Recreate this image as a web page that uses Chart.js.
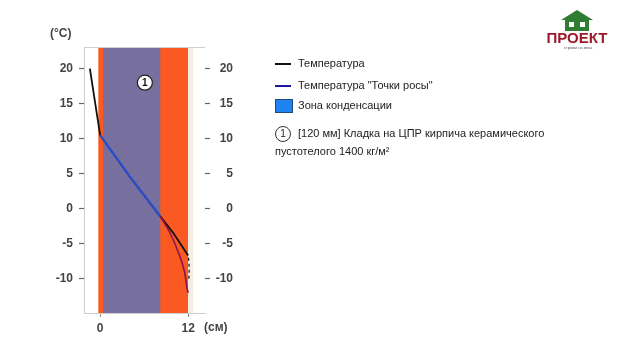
<!DOCTYPE html>
<html>
<head>
<meta charset="utf-8">
<script src="https://cdn.jsdelivr.net/npm/chart.js@4/dist/chart.umd.min.js"></script>
<style>
  body { margin: 0; background: #fff; font-family: "Liberation Sans", Arial, sans-serif; }
  #wrap { position: relative; width: 640px; height: 360px; }
  canvas { position: absolute; left: 0; top: 0; }
  .lg { position: absolute; font-size: 11px; color: #222; white-space: nowrap; }
  .unit { position: absolute; font-size: 12px; color: #444; font-weight: bold; }
</style>
</head>
<body>
<div id="wrap">
  <canvas id="myChart" width="640" height="360"></canvas>
  <div class="unit" style="left:50px;top:26px;">(°C)</div>
  <div class="unit" style="left:204px;top:320px;">(см)</div>

  <div style="position:absolute;left:275px;top:63px;width:16px;height:2px;background:#111;"></div>
  <div class="lg" style="left:298px;top:57px;">Температура</div>
  <div style="position:absolute;left:275px;top:85px;width:16px;height:2px;background:#1a1aa0;"></div>
  <div class="lg" style="left:298px;top:79px;">Температура "Точки росы"</div>
  <div style="position:absolute;left:275px;top:99px;width:16px;height:12px;background:#1e82f0;border:1px solid #24487a;"></div>
  <div class="lg" style="left:298px;top:99px;">Зона конденсации</div>
  <div style="position:absolute;left:275px;top:126px;width:14px;height:14px;border:1px solid #333;border-radius:50%;font-size:10px;text-align:center;line-height:14px;color:#222;">1</div>
  <div class="lg" style="left:298px;top:127px;">[120 мм] Кладка на ЦПР кирпича керамического</div>
  <div class="lg" style="left:275px;top:145px;">пустотелого 1400 кг/м²</div>

  <svg style="position:absolute;left:538px;top:8px;" width="80" height="42">
    <polygon points="23,12 39,2 55,12" fill="#2e7d32"/>
    <rect x="27" y="12" width="24" height="11" fill="#2e7d32"/>
    <rect x="31" y="14" width="5" height="5" fill="#fff"/>
    <rect x="42" y="14" width="5" height="5" fill="#fff"/>
    <text x="39" y="35" text-anchor="middle" font-family="Liberation Sans, Arial" font-weight="bold" font-size="15" fill="#9c1a28">ПРОЕКТ</text>
    <text x="40" y="41" text-anchor="middle" font-family="Liberation Sans, Arial" font-size="4" fill="#555">строим на века</text>
  </svg>
</div>
<script>
// layers of the wall (cm)
const layerFrom = [-0.25, 0.4, 12];
const layerTo = [12, 8.2, 12.7];
const layerColors = ['#fa5a22', '#78709e', '#f5ede2'];

// temperature through the wall
const tempX = [-1.4, 0, 4.1, 8.2, 10, 12];
const tempY = [20, 10.5, 4.5, -1.1, -3.5, -6.7];
// short dashed tail behind the wall
const tailX = [12.05, 12.15, 12.1];
const tailY = [-7, -8.5, -10];
// dew point: in condensation zone and beyond
const dewX = [0, 4.1, 8.2];
const dewY = [10.5, 4.5, -1.1];
const dew2X = [8.2, 9.5, 10.9, 11.5, 11.9, 12];
const dew2Y = [-1.1, -3.4, -6.9, -9, -11.6, -12];

const yTicks = [-10, -5, 0, 5, 10, 15, 20];
const xTicks = [0, 12];
const markerX = 6.1, markerY = 18, markerText = '1';

const pts = (xs, ys) => xs.map((x, i) => ({ x: x, y: ys[i] }));

const bands = {
    id: 'bands',
    beforeDatasetsDraw(chart) {
        const { ctx, chartArea: a, scales: { x } } = chart;
        ctx.save();
        layerFrom.forEach((f, i) => {
            const x0 = x.getPixelForValue(f), x1 = x.getPixelForValue(layerTo[i]);
            ctx.fillStyle = layerColors[i];
            ctx.fillRect(x0, a.top, x1 - x0, a.bottom - a.top);
        });
        // faint hatch over condensation zone
        const h0 = x.getPixelForValue(layerFrom[1]), h1 = x.getPixelForValue(layerTo[1]);
        ctx.beginPath();
        ctx.rect(h0, a.top, h1 - h0, a.bottom - a.top);
        ctx.clip();
        ctx.strokeStyle = 'rgba(100,90,150,0.18)';
        ctx.lineWidth = 1;
        const hgt = a.bottom - a.top;
        for (let k = -hgt; k < (h1 - h0) + 10; k += 8) {
            ctx.beginPath();
            ctx.moveTo(h0 + k, a.bottom);
            ctx.lineTo(h0 + k + hgt, a.top);
            ctx.stroke();
        }
        ctx.restore();
        ctx.save();
        ctx.strokeStyle = '#cfcfcf';
        ctx.lineWidth = 1;
        ctx.beginPath();
        ctx.moveTo(a.left, a.top + 0.5);
        ctx.lineTo(a.right, a.top + 0.5);
        ctx.stroke();
        ctx.restore();
    },
    afterDatasetsDraw(chart) {
        const { ctx, scales: { x, y } } = chart;
        const cx = x.getPixelForValue(markerX), cy = y.getPixelForValue(markerY);
        ctx.save();
        ctx.beginPath();
        ctx.arc(cx, cy, 7.5, 0, Math.PI * 2);
        ctx.fillStyle = '#fff';
        ctx.fill();
        ctx.strokeStyle = '#222';
        ctx.lineWidth = 1.2;
        ctx.stroke();
        ctx.fillStyle = '#111';
        ctx.font = 'bold 10px "Liberation Sans", Arial';
        ctx.textAlign = 'center';
        ctx.textBaseline = 'middle';
        ctx.fillText(markerText, cx, cy + 0.5);
        ctx.restore();
    }
};

const tickFont = { family: '"Liberation Sans", Arial', size: 12, weight: 'bold' };
const yScale = (pos) => ({
    type: 'linear',
    position: pos,
    min: -14.9,
    max: 23.1,
    afterBuildTicks: s => { s.ticks = yTicks.map(v => ({ value: v })); },
    afterFit: s => { s.width = pos === 'left' ? 84 : 28; },
    border: { display: pos === 'left', color: '#cfcfcf' },
    grid: { drawOnChartArea: false, tickLength: 5, color: '#666', tickWidth: 1.2 },
    ticks: { color: '#444', font: tickFont, padding: pos === 'left' ? 6 : 5, crossAlign: pos === 'left' ? 'near' : 'far' }
});

new Chart(document.getElementById('myChart').getContext('2d'), {
    type: 'scatter',
    data: {
        datasets: [
            { data: pts(tempX, tempY), borderColor: '#111', borderWidth: 1.8, order: 4 },
            { data: pts(tailX, tailY), borderColor: '#111', borderWidth: 1.2, borderDash: [3, 3], order: 3 },
            { data: pts(dewX, dewY), borderColor: '#2a4fd0', borderWidth: 2.2, order: 1 },
            { data: pts(dew2X, dew2Y), borderColor: '#8a1450', borderWidth: 1.6, cubicInterpolationMode: 'monotone', order: 2 }
        ].map(d => Object.assign({ showLine: true, pointRadius: 0, fill: false }, d))
    },
    options: {
        responsive: false,
        animation: false,
        layout: { padding: { left: 0, right: 407, top: 47, bottom: 0 } },
        plugins: { legend: { display: false }, tooltip: { enabled: false } },
        scales: {
            x: {
                type: 'linear',
                min: -2.2,
                max: 14.3,
                afterBuildTicks: s => { s.ticks = xTicks.map(v => ({ value: v })); },
                afterFit: s => { s.height = 47; },
                border: { color: '#cfcfcf' },
                grid: { drawOnChartArea: false, tickLength: 4, color: '#888' },
                ticks: { color: '#444', font: tickFont, padding: 4 }
            },
            y: yScale('left'),
            y2: yScale('right')
        }
    },
    plugins: [bands]
});
</script>
</body>
</html>
